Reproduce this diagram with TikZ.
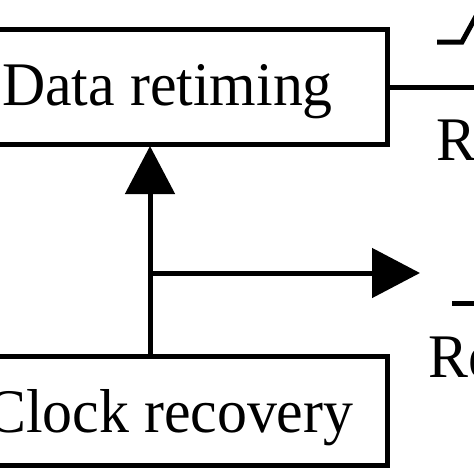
\documentclass[tikz,border=0pt]{standalone}
\usepackage{fontspec}
\setmainfont{Liberation Serif}
\usetikzlibrary{arrows.meta}
\newcommand{\narrowtxt}[1]{\scalebox{0.965}[1]{#1}}
\tikzset{
  box/.style={draw=black, line width=5pt, rectangle, inner sep=0pt},
  txt/.style={inner sep=0pt, font=\fontsize{62}{70}\selectfont, anchor=base west},
  wire/.style={line width=5pt},
  arr/.style={line width=5pt, -{Triangle[length=48pt,width=49pt]}},
}
\begin{document}
\begin{tikzpicture}[x=1pt,y=-1pt]
\useasboundingbox (0,0) rectangle (474,474);
\clip (0,0) rectangle (474,474);
\fill[white] (0,0) rectangle (474,474);
% boxes
\node[box, minimum width=427pt, minimum height=115pt] (dr) at (173.5,86.5) {};
\node[box, minimum width=427pt, minimum height=109pt] (cr) at (173.5,410.5) {};
\node[txt] (drt) at (2,105) {\narrowtxt{Data retiming}};
\node[txt] (crt) at (-14,432) {\narrowtxt{Clock recovery}};
% output line of data retiming
\coordinate (o1) at (490,87);
\draw[wire] (dr.east |- 0,87) -- (o1);
% waveform sketch
\coordinate (w0) at (437,42);
\coordinate (w1) at (462,42);
\coordinate (w2) at (480,9);
\draw[wire, line join=miter] (w0) -- (w1) -- (w2);
\node[txt] (lab1) at (436,160) {\narrowtxt{R}};
% clock output
\coordinate (br) at (150,273);
\coordinate (ck) at (420,273);
\draw[arr] (cr.north -| 150,0) -- (150,146) coordinate (tip);
\draw[arr] (br) -- (ck);
% lower label
\coordinate (l0) at (452,303);
\coordinate (l1) at (490,303);
\draw[wire] (l0) -- (l1);
\node[txt] (lab2) at (428,377) {\narrowtxt{Re}};
\end{tikzpicture}
\end{document}
